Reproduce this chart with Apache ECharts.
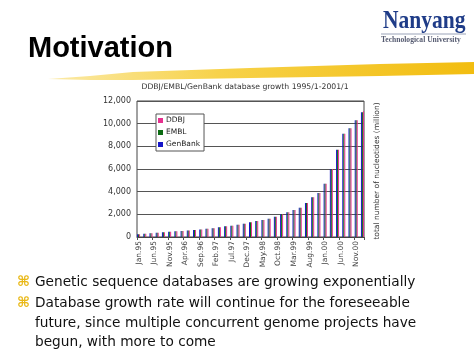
<!DOCTYPE html>
<html>
<head>
<meta charset="utf-8">
<script src="https://cdn.jsdelivr.net/npm/echarts@6/dist/echarts.min.js"></script>
<style>
html,body{margin:0;padding:0;background:#fff;}
#c{width:474px;height:355px;}
</style>
</head>
<body>
<div id="c"></div>
<script>
// ---- data (values in million nucleotides, bimonthly from Jan.95 to Jan.01) ----
const monthNames = ['Jan','Feb','Mar','Apr','May','Jun','Jul','Aug','Sep','Oct','Nov','Dec'];
const startYear = 1995, monthCount = 73; // Jan.95 .. Jan.01
const yTicks = [0, 2000, 4000, 6000, 8000, 10000, 12000];
const seriesNames = ['DDBJ', 'EMBL', 'GenBank'];
const genbank = [240,290,330,380,430,470,500,540,580,620,660,720,780,860,940,1000,1080,1180,1300,1420,1500,1600,1780,2000,2180,2380,2570,3000,3500,3880,4700,6000,7700,9100,9600,10300,11000];
const embl    = [240,290,330,380,430,470,500,540,580,620,660,720,780,860,940,1000,1080,1180,1300,1420,1500,1600,1780,2000,2180,2380,2570,3000,3500,3880,4700,6000,7700,9100,9600,10300,11000];
const ddbj    = [240,290,330,380,430,470,500,540,580,620,660,720,780,860,940,1000,1080,1180,1300,1420,1500,1600,1780,2000,2180,2380,2570,3000,3500,3880,4700,6000,7700,9100,9600,10300,11100];

const categories = [];
for (let i = 0; i < monthCount; i++) {
  const m = i % 12, y = startYear + Math.floor(i / 12);
  categories.push(monthNames[m] + '.' + String(y).slice(2));
}
function monthly(arr) {
  const out = new Array(monthCount).fill(null);
  arr.forEach((v, k) => { out[k * 2] = v; });
  return out;
}

const colors = { DDBJ: '#e6308e', EMBL: '#0b6b12', GenBank: '#1414c8' };
const font = 'DejaVu Sans';
const bodyFont = '13.7px "DejaVu Sans"';

const chart = echarts.init(document.getElementById('c'));
chart.setOption({
  animation: false,
  backgroundColor: '#fff',
  grid: { left: 137, top: 101, width: 227, height: 136, show: true, borderColor: '#444', borderWidth: 1, backgroundColor: 'transparent' },
  legend: {
    data: seriesNames,
    orient: 'vertical',
    left: 156, top: 114,
    backgroundColor: '#fff',
    borderColor: '#555', borderWidth: 1,
    padding: [2, 4, 2, 2],
    itemWidth: 5, itemHeight: 5, itemGap: 3,
    icon: 'rect',
    textStyle: { fontFamily: font, fontSize: 7.5, color: '#222', lineHeight: 9, padding: [0, 0, 0, -2] }
  },
  xAxis: {
    type: 'category',
    data: categories,
    boundaryGap: true,
    axisLine: { lineStyle: { color: '#444' } },
    axisTick: { show: true, interval: 4, length: 3, lineStyle: { color: '#555' } },
    axisLabel: { interval: 4, rotate: 90, fontFamily: font, fontSize: 7.5, color: '#444', margin: 4 }
  },
  yAxis: {
    type: 'value',
    min: yTicks[0], max: yTicks[yTicks.length - 1], interval: 2000,
    axisLine: { show: false },
    axisTick: { show: false },
    splitLine: { lineStyle: { color: '#555', width: 1 } },
    axisLabel: { fontFamily: font, fontSize: 8, color: '#333', margin: 6,
      formatter: v => v.toLocaleString('en-US') }
  },
  series: [
    { name: 'GenBank', type: 'bar', data: monthly(genbank), barWidth: 1, barGap: '0%', itemStyle: { color: colors.GenBank } },
    { name: 'EMBL', type: 'bar', data: monthly(embl), barWidth: 1, barGap: '0%', itemStyle: { color: colors.EMBL } },
    { name: 'DDBJ', type: 'bar', data: monthly(ddbj), barWidth: 1, barGap: '0%', itemStyle: { color: colors.DDBJ } }
  ],
  graphic: [
    { type: 'polygon', silent: true, shape: { points: [[48,79],[90,76],[133,72],[250,68],[380,64],[474,62],[474,74],[380,76],[250,78],[133,80],[90,80]] },
      style: { fill: new echarts.graphic.LinearGradient(0, 0, 1, 0, [{offset:0,color:'#fbeaa8'},{offset:0.4,color:'#f7d24a'},{offset:1,color:'#f2bd10'}]) } },
    { type: 'text', left: 28, top: 34, style: { text: 'Motivation', font: 'bold 29px "Liberation Sans"', fill: '#000' } },
    { type: 'text', x: 383, y: 9, scaleX: 0.86, style: { text: 'Nanyang', font: 'bold 25px "Liberation Serif"', fill: '#1f3c88' } },
    { type: 'line', shape: { x1: 381, y1: 34, x2: 466, y2: 34 }, style: { stroke: '#9aa3b8', lineWidth: 1 } },
    { type: 'text', x: 381, y: 35, scaleX: 0.84, style: { text: 'Technological University', font: 'bold 9px "Liberation Serif"', fill: '#555a70' } },
    { type: 'text', x: 245, y: 87, style: { text: 'DDBJ/EMBL/GenBank database growth 1995/1-2001/1', font: '7.7px "DejaVu Sans"', fill: '#333', align: 'center', verticalAlign: 'middle' } },
    { type: 'text', x: 377, y: 171, rotation: Math.PI / 2, style: { text: 'total number of nucleotides (million)', font: '7.5px "DejaVu Sans"', fill: '#333', align: 'center', verticalAlign: 'middle' } },
    { type: 'text', x: 17, y: 282, style: { text: '\u2318', font: 'bold 14px "DejaVu Sans"', fill: '#e9b816', verticalAlign: 'middle' } },
    { type: 'text', x: 17, y: 303, style: { text: '\u2318', font: 'bold 14px "DejaVu Sans"', fill: '#e9b816', verticalAlign: 'middle' } },
    { type: 'text', x: 35, y: 282, style: { text: 'Genetic sequence databases are growing exponentially', font: bodyFont, fill: '#111', verticalAlign: 'middle' } },
    { type: 'text', x: 35, y: 303, style: { text: 'Database growth rate will continue for the foreseeable', font: bodyFont, fill: '#111', verticalAlign: 'middle' } },
    { type: 'text', x: 35, y: 323, style: { text: 'future, since multiple concurrent genome projects have', font: bodyFont, fill: '#111', verticalAlign: 'middle' } },
    { type: 'text', x: 35, y: 342, style: { text: 'begun, with more to come', font: bodyFont, fill: '#111', verticalAlign: 'middle' } }
  ]
});
</script>
</body>
</html>
